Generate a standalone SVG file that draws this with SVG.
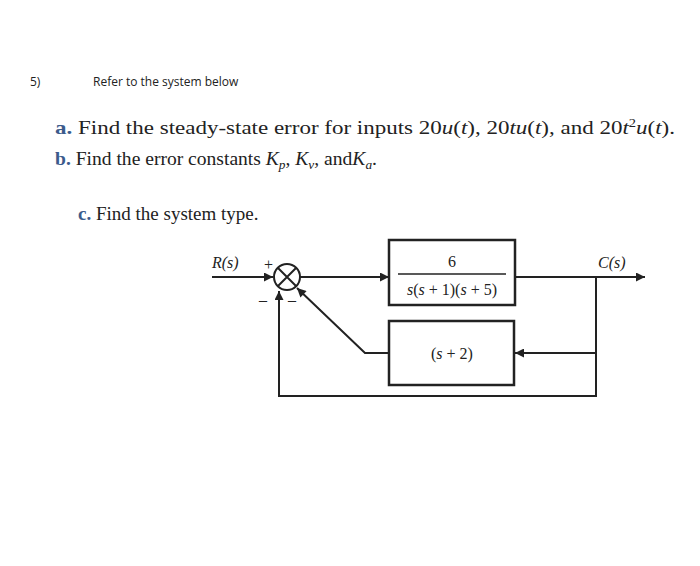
<svg xmlns="http://www.w3.org/2000/svg" width="700" height="566" viewBox="0 0 700 566">
<defs>
<style>
.q{font-family:"Liberation Serif","DejaVu Serif",serif;font-size:19px;fill:#222}
.lb{font-weight:bold;fill:#3b5b8c}
.d{font-family:"Liberation Serif","DejaVu Serif",serif;font-size:16px;fill:#222}
.ln{stroke:#222;stroke-width:2;fill:none}
.bx{stroke:#222;stroke-width:2.5;fill:#fff}
</style>
<marker id="a" viewBox="0 0 10 10" refX="10" refY="5" markerWidth="14" markerHeight="9" orient="auto" markerUnits="userSpaceOnUse"><path d="M0,0L10,5L0,10z" fill="#222"/></marker>
</defs>
<rect width="700" height="566" fill="#fff"/>
<text x="30" y="86" font-family="Open Sans,sans-serif" font-size="12" fill="#222">5)</text>
<text x="93" y="86" font-family="Open Sans,sans-serif" font-size="12" fill="#222">Refer to the system below</text>
<text class="q" x="55" y="134" textLength="620" lengthAdjust="spacingAndGlyphs"><tspan class="lb">a.</tspan> Find the steady-state error for inputs 20<tspan font-style="italic">u</tspan>(<tspan font-style="italic">t</tspan>), 20<tspan font-style="italic">tu</tspan>(<tspan font-style="italic">t</tspan>), and 20<tspan font-style="italic">t</tspan><tspan font-size="12" dy="-7">2</tspan><tspan dy="7" font-style="italic">u</tspan>(<tspan font-style="italic">t</tspan>).</text>
<text class="q" x="55" y="165" textLength="322" lengthAdjust="spacingAndGlyphs"><tspan class="lb">b.</tspan> Find the error constants <tspan font-style="italic">K</tspan><tspan font-style="italic" font-size="13" dy="4">p</tspan><tspan dy="-4">, </tspan><tspan font-style="italic">K</tspan><tspan font-style="italic" font-size="13" dy="4">v</tspan><tspan dy="-4">, and</tspan><tspan font-style="italic">K</tspan><tspan font-style="italic" font-size="13" dy="4">a</tspan><tspan dy="-4">.</tspan></text>
<text class="q" x="78" y="220"><tspan class="lb">c.</tspan> Find the system type.</text>

<g id="connectors">
<path class="ln" d="M212,277H273" marker-end="url(#a)"/>
<path class="ln" d="M300,277H389" marker-end="url(#a)"/>
<path class="ln" d="M515,277H645" marker-end="url(#a)"/>
<path class="ln" d="M596,277V396H279V291" marker-end="url(#a)"/>
<path class="ln" d="M596,353H515" marker-end="url(#a)"/>
<path class="ln" d="M389,353H365L297,288" marker-end="url(#a)"/>
</g>
<g id="sum">
<circle cx="287" cy="277" r="13" class="ln" fill="#fff"/>
<path class="ln" d="M278,268L296,286M296,268L278,286" stroke-width="1.8"/>
<text class="d" x="264" y="270">+</text>
<text class="d" x="259" y="305">–</text>
<text class="d" x="288" y="305">–</text>
</g>
<g id="labels">
<text class="d" x="212" y="268" font-style="italic">R(s)</text>
<text class="d" x="598" y="268" font-style="italic">C(s)</text>
</g>
<g id="forward">
<rect class="bx" x="389" y="240" width="126" height="65"/>
<text class="d" x="452" y="267" text-anchor="middle">6</text>
<line x1="398" y1="274" x2="506" y2="274" stroke="#222" stroke-width="1.5"/>
<text class="d" x="452" y="295" text-anchor="middle"><tspan font-style="italic">s</tspan>(<tspan font-style="italic">s</tspan> + 1)(<tspan font-style="italic">s</tspan> + 5)</text>
</g>
<g id="feedback">
<rect class="bx" x="389" y="321" width="125" height="64"/>
<text class="d" x="452" y="359" text-anchor="middle">(<tspan font-style="italic">s</tspan> + 2)</text>
</g>
</svg>
